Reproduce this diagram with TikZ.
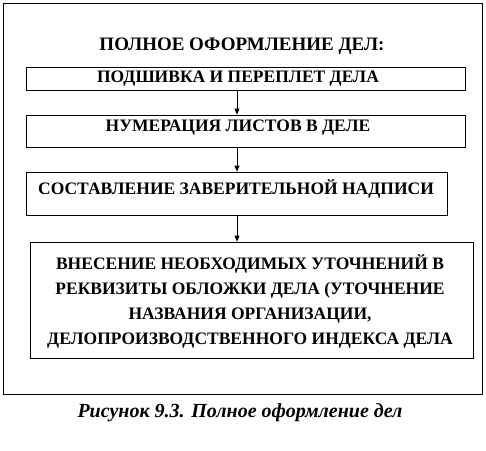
\documentclass[tikz,border=0pt]{standalone}
\usepackage{fontspec}
\setmainfont{Liberation Serif}
\usetikzlibrary{arrows.meta}
\begin{document}
\begin{tikzpicture}[x=1pt,y=-1pt,
  boxst/.style={draw,line width=0.8pt,rectangle,inner sep=0pt},
  txt/.style={font=\fontsize{17.5}{25}\selectfont\bfseries,align=center,inner sep=0pt},
  arr/.style={line width=0.8pt,-{Triangle[length=6pt,width=5pt]}}]
\useasboundingbox (0,0) rectangle (486,450);
\draw[line width=0.8pt] (3,3) rectangle (482,394);
\node[txt,font=\fontsize{19}{22}\selectfont\bfseries] (title) at (242,46) {ПОЛНОЕ ОФОРМЛЕНИЕ ДЕЛ:};
\node[boxst,minimum width=439pt,minimum height=23pt] (b1) at (245.5,78.5) {};
\node[txt] (t1) at (238,79) {ПОДШИВКА И ПЕРЕПЛЕТ ДЕЛА};
\node[boxst,minimum width=439pt,minimum height=32pt] (b2) at (245.5,131) {};
\node[txt] (t2) at (238,128) {НУМЕРАЦИЯ ЛИСТОВ В ДЕЛЕ};
\node[boxst,minimum width=421pt,minimum height=43pt] (b3) at (236.5,193.5) {};
\node[txt] (t3) at (236,189) {СОСТАВЛЕНИЕ ЗАВЕРИТЕЛЬНОЙ НАДПИСИ};
\node[boxst,minimum width=443pt,minimum height=116pt] (b4) at (251.5,300) {};
\node[txt] (t4) at (250,301) {ВНЕСЕНИЕ НЕОБХОДИМЫХ УТОЧНЕНИЙ В\\РЕКВИЗИТЫ ОБЛОЖКИ ДЕЛА (УТОЧНЕНИЕ\\НАЗВАНИЯ ОРГАНИЗАЦИИ,\\ДЕЛОПРОИЗВОДСТВЕННОГО ИНДЕКСА ДЕЛА};
\coordinate (ax) at (237,0);
\draw[arr] (b1.south -| ax) -- (b2.north -| ax);
\draw[arr] (b2.south -| ax) -- (b3.north -| ax);
\draw[arr] (b3.south -| ax) -- (b4.north -| ax);
\node[font=\fontsize{20}{22}\selectfont\bfseries\itshape,inner sep=0pt] (cap) at (240,413) {Рисунок 9.3. Полное оформление дел};
\end{tikzpicture}
\end{document}
